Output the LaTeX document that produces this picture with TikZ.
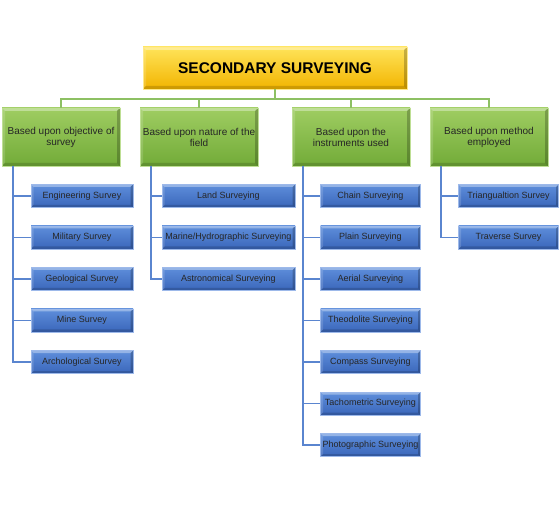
\documentclass[tikz,border=0pt]{standalone}
\usepackage{fontspec}
\setmainfont{Liberation Sans}
\usetikzlibrary{positioning, calc}
\usepackage{xcolor}
\definecolor{titletop}{HTML}{FFE45A}
\definecolor{titlebot}{HTML}{F2B400}
\definecolor{titleedge}{HTML}{FFE98A}
\definecolor{grouptop}{HTML}{9FCD62}
\definecolor{groupbot}{HTML}{72AB38}
\definecolor{groupedge}{HTML}{BEDF94}
\definecolor{itemtop}{HTML}{5E8EDB}
\definecolor{itembot}{HTML}{3A66BA}
\definecolor{itemedge}{HTML}{9DB9EA}
\definecolor{grouplink}{HTML}{8DC063}
\definecolor{itemlink}{HTML}{5A85CF}

\newcommand{\bevelbb}{path picture bounding box}

\begin{document}
\begin{tikzpicture}[
    x=1pt, y=-1pt,
    every node/.style={font=\fontsize{9}{11}\selectfont},
    bevel/.style={path picture={
        % light top and left, dark right and bottom
        \fill[white, opacity=0.35] (\bevelbb.north west) -- (\bevelbb.north east)
            -- ([xshift=-#1,yshift=-#1]\bevelbb.north east)
            -- ([xshift=#1,yshift=-#1]\bevelbb.north west) -- cycle;
        \fill[white, opacity=0.15] (\bevelbb.north west) -- (\bevelbb.south west)
            -- ([xshift=#1,yshift=#1]\bevelbb.south west)
            -- ([xshift=#1,yshift=-#1]\bevelbb.north west) -- cycle;
        \fill[black, opacity=0.22] (\bevelbb.north east) -- (\bevelbb.south east)
            -- ([xshift=-#1,yshift=#1]\bevelbb.south east)
            -- ([xshift=-#1,yshift=-#1]\bevelbb.north east) -- cycle;
        \fill[black, opacity=0.15] (\bevelbb.south west) -- (\bevelbb.south east)
            -- ([xshift=-#1,yshift=#1]\bevelbb.south east)
            -- ([xshift=#1,yshift=#1]\bevelbb.south west) -- cycle;
    }},
    box/.style={
        rectangle, draw, line width=0.9pt,
        inner sep=1pt, align=center,
    },
    titlebox/.style={box, top color=titletop, bottom color=titlebot,
        draw=titleedge, minimum width=264pt, minimum height=42pt,
        bevel=3pt, font=\fontsize{15.5}{18}\selectfont\bfseries},
    groupbox/.style={box, top color=grouptop, bottom color=groupbot,
        draw=groupedge, minimum width=118pt, minimum height=58pt,
        bevel=3pt, text=black!85, font=\fontsize{10}{11}\selectfont},
    itembox/.style={box, top color=itemtop, bottom color=itembot,
        draw=itemedge, minimum width=100pt, minimum height=23pt,
        bevel=2.5pt, text=black!85},
    glink/.style={draw=grouplink, line width=1.1pt},
    blink/.style={draw=itemlink, line width=1.1pt}
]

\useasboundingbox (0,0) rectangle (560,505);

% Top: title
\node[titlebox] (title) at (275,68) {SECONDARY SURVEYING};
\coordinate (bus) at (275,99);

% Classification groups
\node[groupbox] (obj) at (61,137) {Based upon objective of\\survey};
\node[groupbox] (nat) at (199,137) {Based upon nature of the\\field};
\node[groupbox] (ins) at (351,137) {Based upon the\\instruments used};
\node[groupbox] (met) at (489,137) {Based upon method\\employed};

% --- Title to groups ---
\draw[glink] (title.south) -- (bus);
\draw[glink] (obj.north) |- (bus);
\draw[glink] (nat.north) |- (bus);
\draw[glink] (ins.north) |- (bus);
\draw[glink] (met.north) |- (bus);

% Objective of survey
\node[itembox, minimum width=102pt] (eng) at (82,196) {Engineering Survey};
\node[itembox, minimum width=102pt] (mil) at (82,237.5) {Military Survey};
\node[itembox, minimum width=102pt] (geo) at (82,279) {Geological Survey};
\node[itembox, minimum width=102pt] (mine) at (82,320.5) {Mine Survey};
\node[itembox, minimum width=102pt] (arch) at (82,362) {Archological Survey};

% Nature of the field
\node[itembox, minimum width=133pt] (land) at (228.5,196) {Land Surveying};
\node[itembox, minimum width=133pt] (marine) at (228.5,237.5)
    {Marine/Hydrographic Surveying};
\node[itembox, minimum width=133pt] (astro) at (228.5,279)
    {Astronomical Surveying};

% Instruments used
\node[itembox] (chain) at (370.5,196) {Chain Surveying};
\node[itembox] (plain) at (370.5,237.5) {Plain Surveying};
\node[itembox] (aerial) at (370.5,279) {Aerial Surveying};
\node[itembox] (theo) at (370.5,320.5) {Theodolite Surveying};
\node[itembox] (comp) at (370.5,362) {Compass Surveying};
\node[itembox] (tacho) at (370.5,403.5) {Tachometric Surveying};
\node[itembox] (photo) at (370.5,445) {Photographic Surveying};

% Method employed
\node[itembox] (tri) at (508.5,196) {Triangualtion Survey};
\node[itembox] (trav) at (508.5,237.5) {Traverse Survey};

% --- Group spines ---
\coordinate (obj-s) at (13,166);
\coordinate (nat-s) at (151,166);
\coordinate (ins-s) at (303,166);
\coordinate (met-s) at (441,166);

\draw[blink] (obj-s) |- (eng.west);
\draw[blink] (obj-s) |- (mil.west);
\draw[blink] (obj-s) |- (geo.west);
\draw[blink] (obj-s) |- (mine.west);
\draw[blink] (obj-s) |- (arch.west);

\draw[blink] (nat-s) |- (land.west);
\draw[blink] (nat-s) |- (marine.west);
\draw[blink] (nat-s) |- (astro.west);

\draw[blink] (ins-s) |- (chain.west);
\draw[blink] (ins-s) |- (plain.west);
\draw[blink] (ins-s) |- (aerial.west);
\draw[blink] (ins-s) |- (theo.west);
\draw[blink] (ins-s) |- (comp.west);
\draw[blink] (ins-s) |- (tacho.west);
\draw[blink] (ins-s) |- (photo.west);

\draw[blink] (met-s) |- (tri.west);
\draw[blink] (met-s) |- (trav.west);

\end{tikzpicture}
\end{document}
